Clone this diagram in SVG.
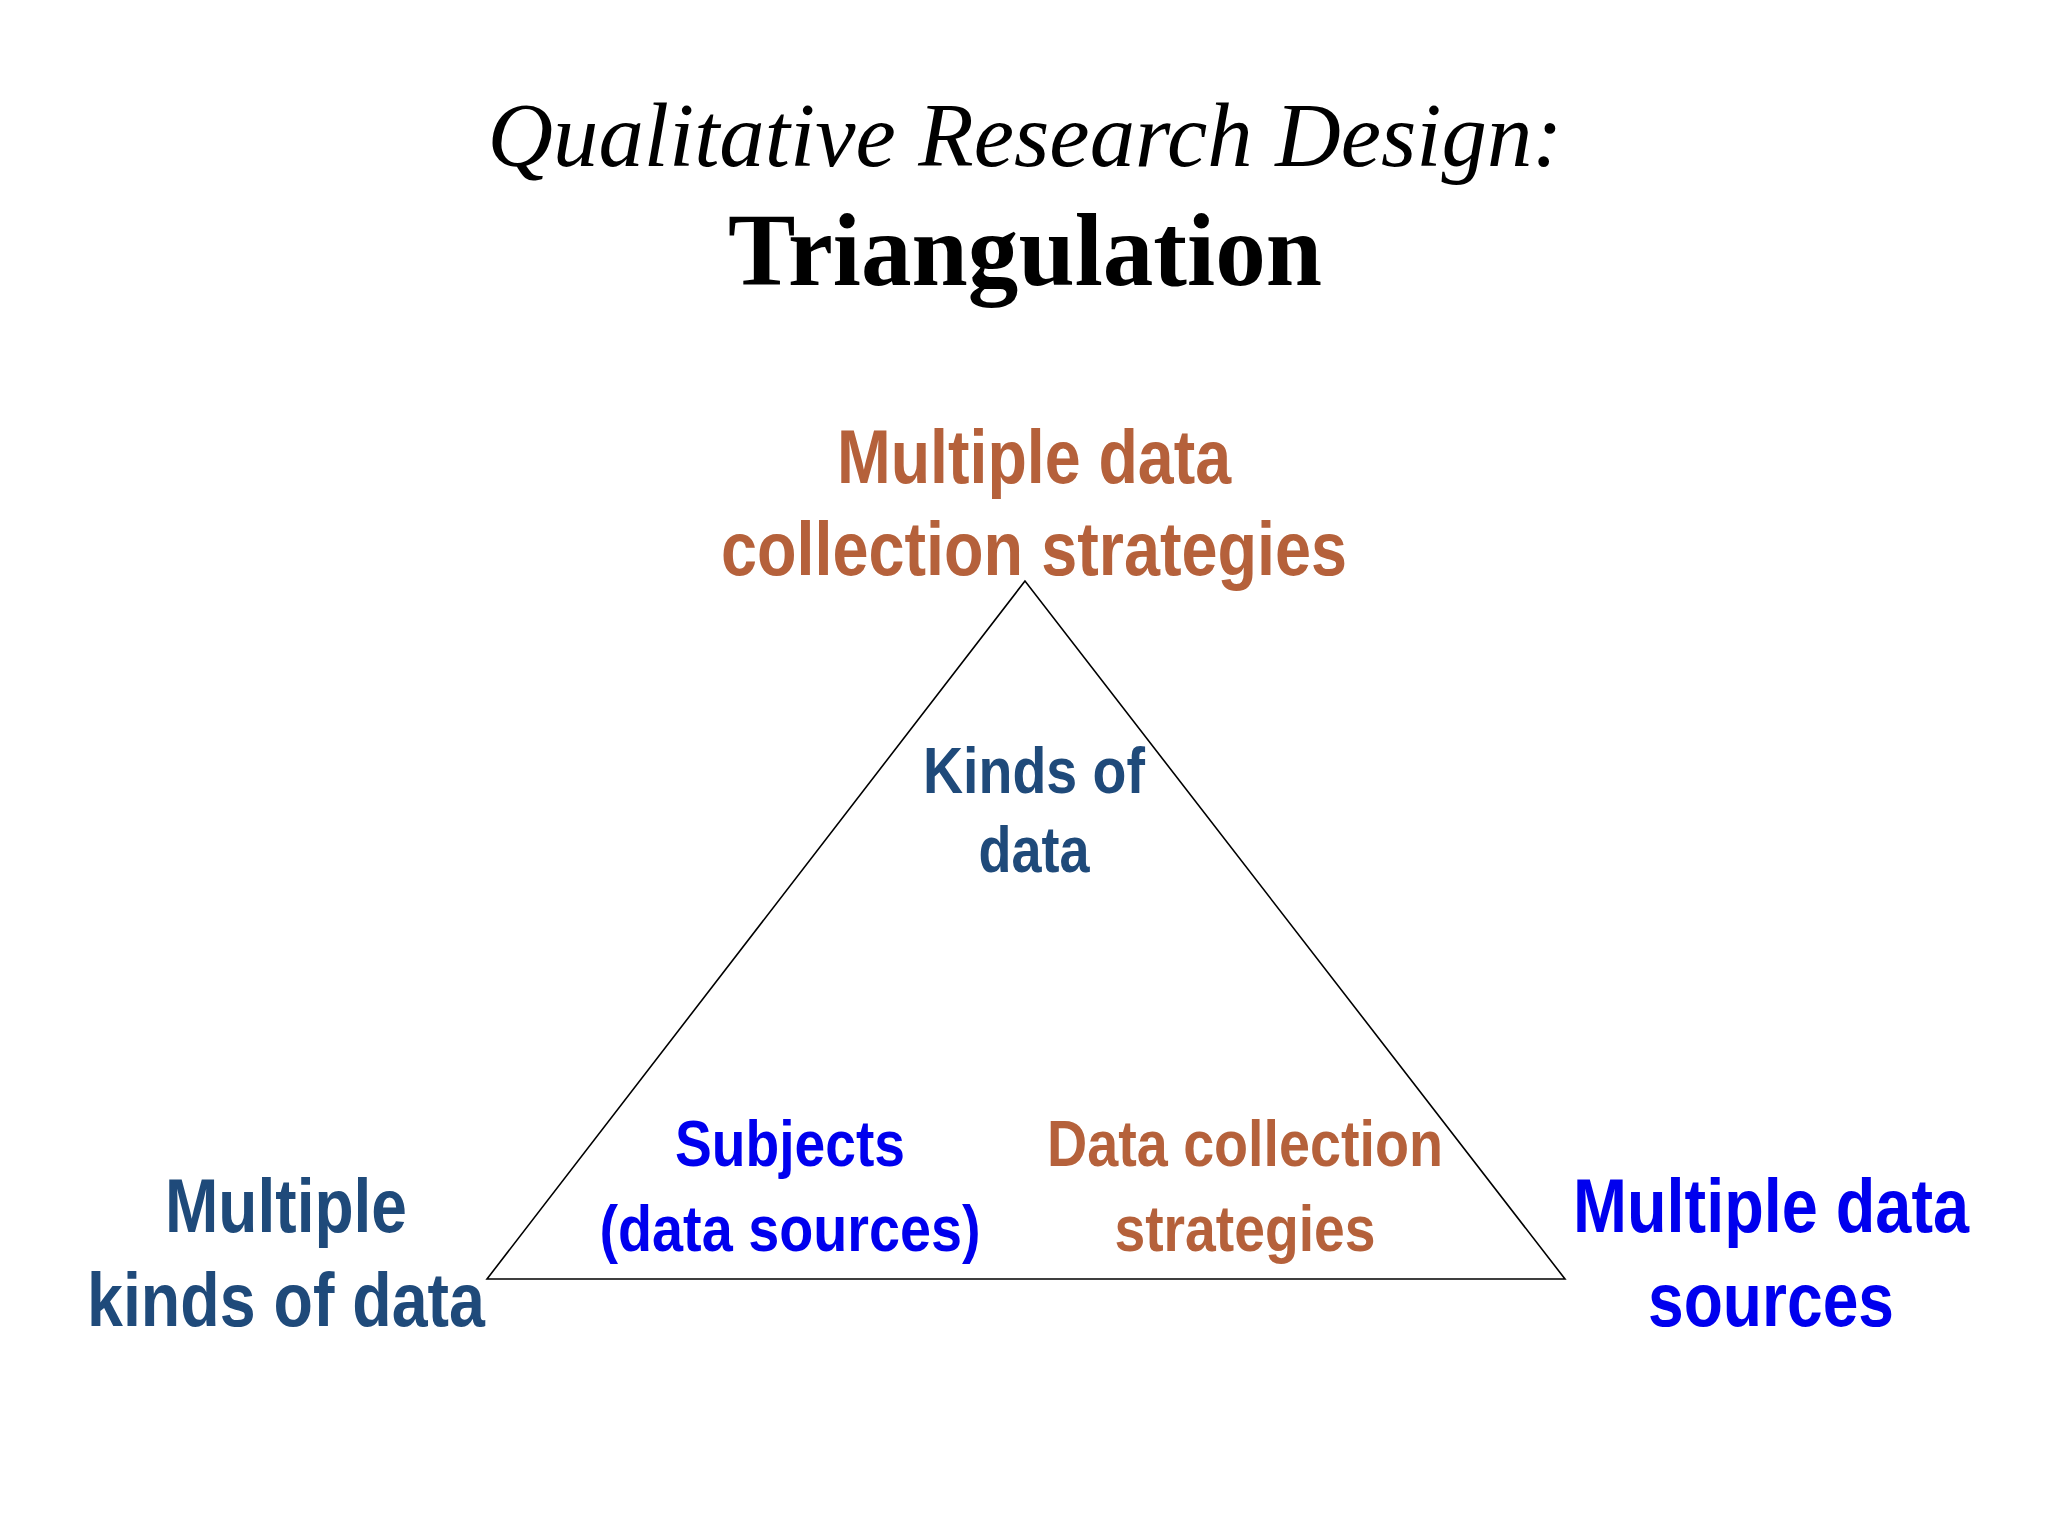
<svg xmlns="http://www.w3.org/2000/svg" width="2048" height="1536" viewBox="0 0 2048 1536">
<style>
.t{font-family:"Liberation Serif",serif;text-anchor:middle;fill:#000}
.l{font-family:"Liberation Sans",Arial,sans-serif;font-weight:bold;text-anchor:middle}
.big{font-size:76px}
.sm{font-size:64px}
.br{fill:#B5613B}
.db{fill:#1F4A7A}
.bl{fill:#0000EE}
</style>
<rect width="2048" height="1536" fill="#fff"/>
<g id="title">
<text class="t" x="1025" y="166" font-size="90" font-style="italic" textLength="1075" lengthAdjust="spacingAndGlyphs">Qualitative Research Design:</text>
<text class="t" x="1025" y="285" font-size="104" font-weight="bold" textLength="594" lengthAdjust="spacingAndGlyphs">Triangulation</text>
</g>
<g id="connectors">
<polygon points="1025,581 487,1279 1565,1279" fill="none" stroke="#000" stroke-width="1.6"/>
</g>
<g id="top">
<text class="l big br" x="1034" y="483" textLength="394" lengthAdjust="spacingAndGlyphs">Multiple data</text>
<text class="l big br" x="1034" y="575" textLength="626" lengthAdjust="spacingAndGlyphs">collection strategies</text>
</g>
<g id="left">
<text class="l big db" x="286" y="1232" textLength="242" lengthAdjust="spacingAndGlyphs">Multiple</text>
<text class="l big db" x="286" y="1326" textLength="398" lengthAdjust="spacingAndGlyphs">kinds of data</text>
</g>
<g id="right">
<text class="l big bl" x="1771" y="1232" textLength="396" lengthAdjust="spacingAndGlyphs">Multiple data</text>
<text class="l big bl" x="1771" y="1326" textLength="246" lengthAdjust="spacingAndGlyphs">sources</text>
</g>
<g id="inner-top">
<text class="l sm db" x="1034" y="793" textLength="222" lengthAdjust="spacingAndGlyphs">Kinds of</text>
<text class="l sm db" x="1034" y="872" textLength="111" lengthAdjust="spacingAndGlyphs">data</text>
</g>
<g id="inner-left">
<text class="l sm bl" x="790" y="1166" textLength="230" lengthAdjust="spacingAndGlyphs">Subjects</text>
<text class="l sm bl" x="790" y="1251" textLength="381" lengthAdjust="spacingAndGlyphs">(data sources)</text>
</g>
<g id="inner-right">
<text class="l sm br" x="1245" y="1166" textLength="396" lengthAdjust="spacingAndGlyphs">Data collection</text>
<text class="l sm br" x="1245" y="1251" textLength="261" lengthAdjust="spacingAndGlyphs">strategies</text>
</g>
</svg>
